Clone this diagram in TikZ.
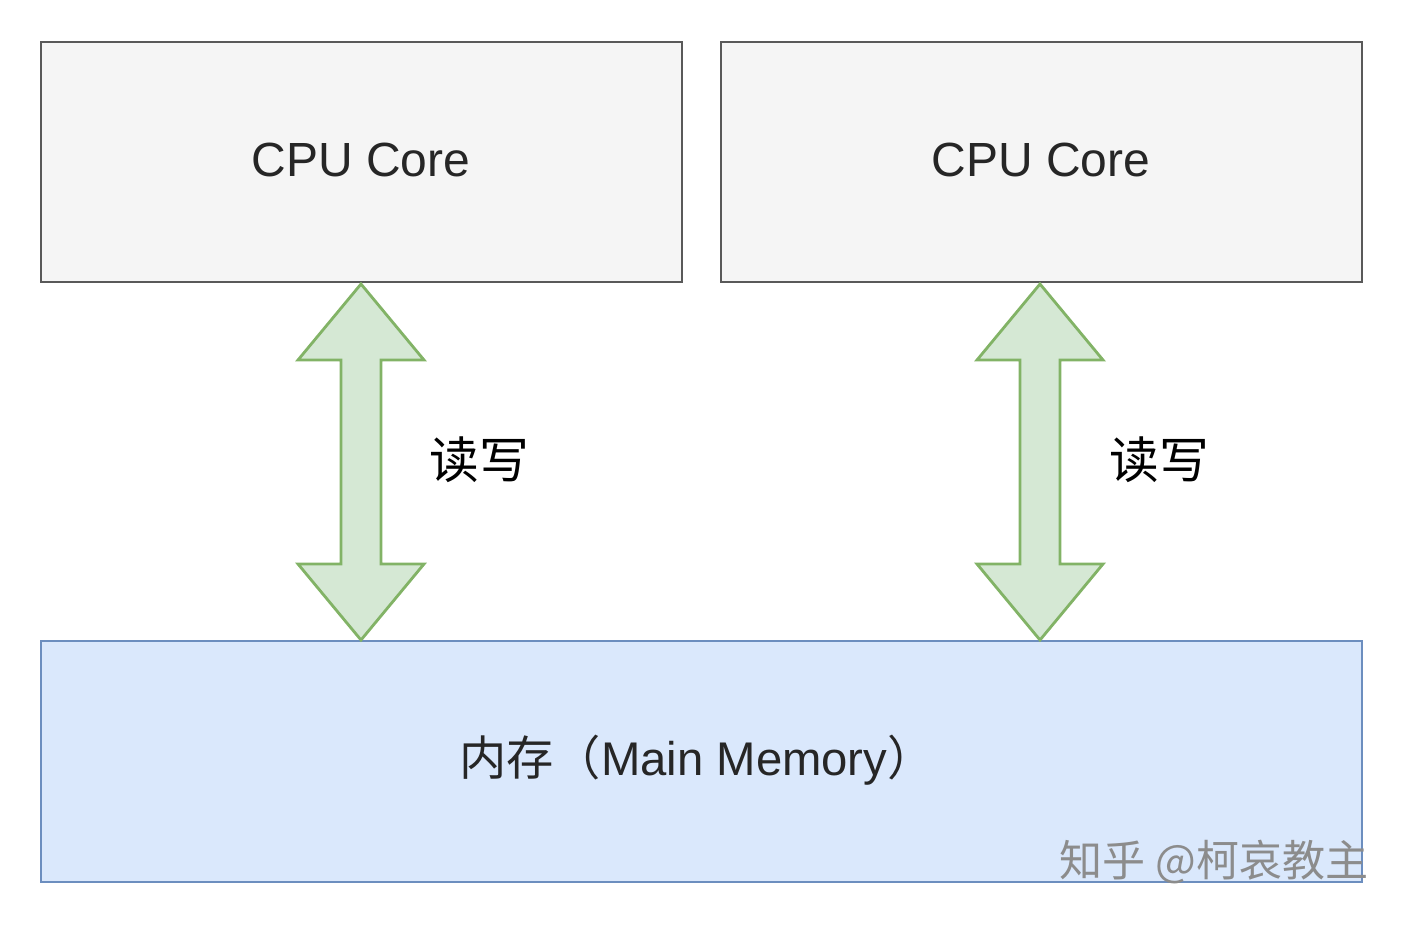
\documentclass[tikz,border=0pt]{standalone}
\usepackage{fontspec}
\setmainfont{Liberation Sans}
\newfontfamily\cjk{Noto Sans CJK SC}
\definecolor{memfill}{HTML}{DAE8FC}
\definecolor{memdraw}{HTML}{6C8EBF}
\definecolor{rwfill}{HTML}{D5E8D4}
\definecolor{rwdraw}{HTML}{82B366}
\begin{document}
\begin{tikzpicture}[x=0.02cm,y=-0.02cm,
  cpu/.style={draw=black!65,fill=black!4,line width=1.6pt},
  mem/.style={draw=memdraw,fill=memfill,line width=1.6pt},
  rw/.style={draw=rwdraw,fill=rwfill,line width=1.6pt,line join=miter},
  lbl/.style={font=\fontsize{27.3}{32}\selectfont,text=black!85}]
\useasboundingbox (0,0) rectangle (1404,924);
\draw[cpu] (41,42) rectangle (682,282);
\draw[cpu] (721,42) rectangle (1362,282);
\draw[mem] (41,641) rectangle (1362,882);
\node[lbl] (c1) at (361,160) {CPU Core};
\node[lbl] (c2) at (1041,160) {CPU Core};
\node[lbl,font=\fontsize{26.9}{32}\selectfont] (m) at (697,760) {{\cjk 内存（}Main Memory{\cjk ）}};
\foreach \cx/\nm in {361/a,1040/b}{
  \draw[rw] (\cx,284) -- ++(63,76) -- ++(-43,0) -- (\cx+20,564) -- ++(43,0) -- (\cx,640)
    -- ++(-63,-76) -- ++(43,0) -- (\cx-20,360) -- ++(-43,0) -- cycle;
}
\node[font=\cjk\fontsize{28.3}{33}\selectfont,text=black] (r1) at (479,460) {读写};
\node[font=\cjk\fontsize{28.3}{33}\selectfont,text=black] (r2) at (1159,460) {读写};
\node[font=\cjk\fontsize{24.5}{29}\selectfont,text=black!45] (w) at (1214,862) {知乎 @柯哀教主};
\end{tikzpicture}
\end{document}
